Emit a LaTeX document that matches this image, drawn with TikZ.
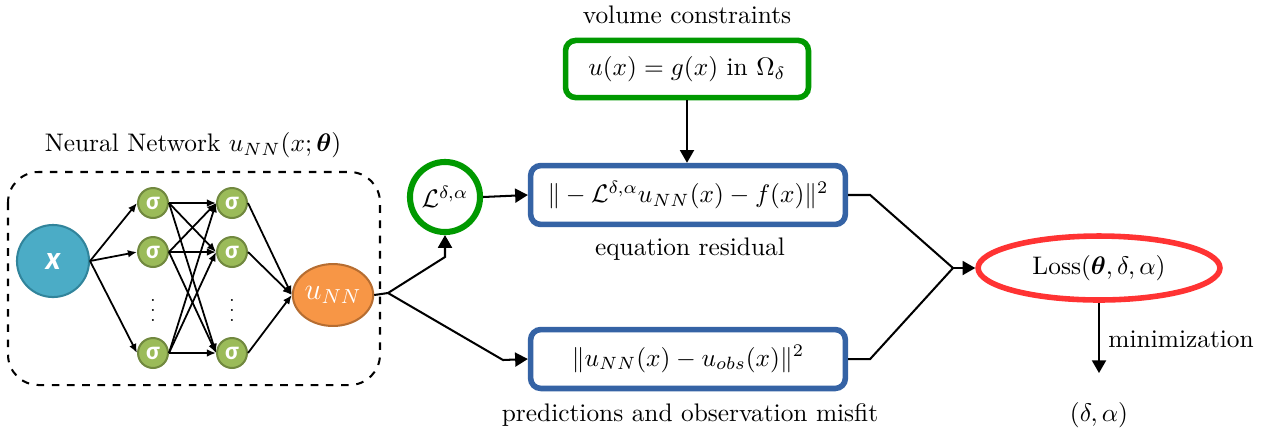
\documentclass[tikz,border=0pt]{standalone}
\usepackage{amsmath,amssymb,bm}
\usepackage{fontspec}
\newfontfamily\calfont{Carlito}
\usetikzlibrary{arrows.meta,shapes.geometric}
\definecolor{opgreen}{RGB}{0,153,0}
\definecolor{termblue}{RGB}{53,99,165}
\definecolor{lossred}{RGB}{255,51,51}
\definecolor{infill}{RGB}{75,172,198}
\definecolor{inline}{RGB}{49,132,155}
\definecolor{sigfill}{RGB}{155,187,89}
\definecolor{sigline}{RGB}{113,137,63}
\definecolor{outfill}{RGB}{247,150,70}
\definecolor{outline}{RGB}{182,109,49}
\begin{document}
\begin{tikzpicture}[x=0.394pt, y=-0.394pt,
    neuron/.style={circle, draw=sigline, fill=sigfill, line width=0.8pt, minimum size=11.8pt, inner sep=0pt, text=white, font=\calfont\bfseries},
    link/.style={-{Latex[length=3.6pt,width=3pt]}, line width=0.7pt},
    flow/.style={-{Triangle[length=5pt,width=5.5pt]}, line width=0.8pt},
    termbox/.style={draw=termblue, line width=2.2pt, rounded corners=4pt, minimum width=124pt, minimum height=23.2pt, fill=white}]

    \useasboundingbox (0,0) rectangle (1264,434);

    % Draw the neural network
    \node (nntitle) at (193,145) {Neural Network $u_{NN}(x;\bm{\theta})$};
    \draw[dashed, rounded corners=12pt, line width=0.8pt] (8,172) rectangle (380,385);

    \node[circle, draw=inline, fill=infill, line width=0.8pt, minimum size=28.4pt, inner sep=0pt, text=white, font=\calfont\bfseries\itshape\fontsize{13}{13}\selectfont] (x) at (53,261) {x};
    \foreach \i/\y in {1/203, 2/252, 3/353} {
        \node[neuron] (a\i) at (153,\y) {σ};
        \node[neuron] (b\i) at (232,\y) {σ};
    };
    \node[font=\scriptsize, inner sep=0pt] (adots) at (153,303) {$\vdots$};
    \node[font=\scriptsize, inner sep=0pt] (bdots) at (232,303) {$\vdots$};
    \node[ellipse, draw=outline, fill=outfill, line width=0.8pt, minimum width=26.8pt, minimum height=24.4pt, inner sep=0pt, text=white, font=\large] (unn) at (333,295) {$u_{NN}$};

    \foreach \i in {1,2,3} {
        \draw[link] (x.east) -- (a\i.west);
        \draw[link] (b\i.east) -- (unn.west);
        \foreach \j in {1,2,3}
            \draw[link] (a\i.east) -- (b\j.west); % Hidden layer links
    };

    % Draw the operator, the terms and the loss
    \node[circle, draw=opgreen, line width=2.4pt, minimum size=27.6pt, inner sep=0pt] (lop) at (445,197) {$\mathcal{L}^{\delta,\alpha}$};
    \node[termbox] (res) at (688,195) {$\|-\mathcal{L}^{\delta,\alpha}u_{NN}(x)-f(x)\|^2$};
    \node (reslabel) at (690,249) {equation residual};
    \node[termbox] (mis) at (688,359) {$\|u_{NN}(x)-u_{obs}(x)\|^2$};
    \node (mislabel) at (690,415) {predictions and observation misfit};
    \node[draw=opgreen, line width=2.2pt, rounded corners=4pt, minimum width=95.7pt, minimum height=22.5pt] (vol) at (687,69) {$u(x)=g(x)$ in $\Omega_\delta$};
    \node (vollabel) at (687,15) {volume constraints};
    \node[ellipse, draw=lossred, line width=2.2pt, minimum width=95.3pt, minimum height=25.2pt] (loss) at (1099,268) {Loss$(\bm{\theta},\delta,\alpha)$};
    \node (result) at (1099,415) {$(\delta,\alpha)$};

    % Connectors
    \coordinate (split) at (388,293);
    \coordinate (upbend) at (445,257);
    \coordinate (downbend) at (503,360);
    \coordinate (join) at (953,268);
    \draw[line width=0.8pt] (unn.east) -- (split);
    \draw[flow] (split) -- (upbend) -- (lop.south);
    \draw[flow] (split) -- (downbend) -- (mis.west);
    \draw[flow] (lop.east) -- (res.west);
    \draw[flow] (vol.south) -- (vol.south |- res.north);
    \draw[line width=0.8pt] (res.east) -- ++(22,0) -- (join);
    \draw[line width=0.8pt] (mis.east) -- ++(22,0) -- (join);
    \draw[flow] (join) -- (loss.west);
    \draw[flow, shorten >=8pt] (loss.south) -- node[right, pos=0.4] {minimization} (result.north);
\end{tikzpicture}
\end{document}
